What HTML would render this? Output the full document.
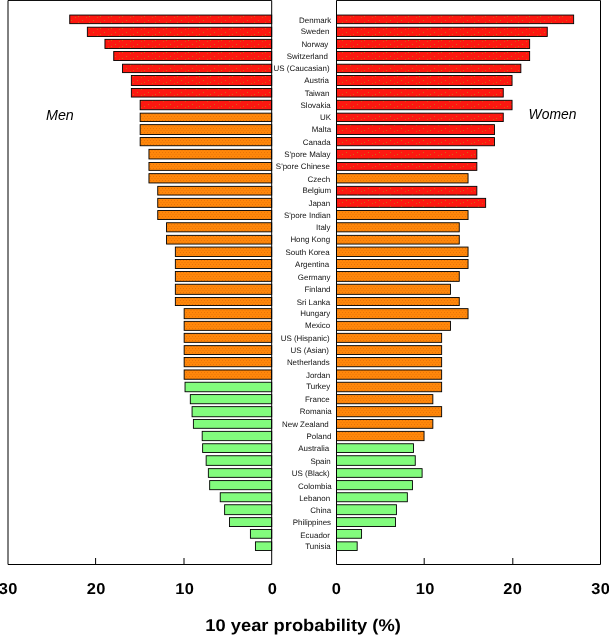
<!DOCTYPE html>
<html><head><meta charset="utf-8"><title>10 year probability</title>
<style>
html,body{margin:0;padding:0;background:#fff;}
body{width:609px;height:636px;overflow:hidden;}
svg{display:block;}
text{font-family:"Liberation Sans",Arial,Helvetica,sans-serif;fill:#000;}
.lab{font-size:7.95px;text-anchor:end;fill:#111;text-rendering:geometricPrecision;}
.ax{text-rendering:geometricPrecision;font-size:15.8px;font-weight:bold;text-anchor:middle;letter-spacing:0.3px;}
.ttl{font-size:17px;font-weight:bold;text-rendering:geometricPrecision;}
.grp{font-size:14.3px;font-style:italic;}
.b{stroke:#000;stroke-width:0.9;}
</style></head><body>
<svg width="609" height="636" viewBox="0 0 609 636">
<defs>
<pattern id="pr" width="11" height="6" patternUnits="userSpaceOnUse"><rect width="11" height="6" fill="#fd1810"/><rect x="1" y="4" width="1" height="1" fill="#c07814" opacity="0.85"/><rect x="5" y="2" width="1" height="1" fill="#c07814" opacity="0.85"/><rect x="9" y="5" width="1" height="1" fill="#c07814" opacity="0.7"/></pattern>
<pattern id="po" width="3" height="4" patternUnits="userSpaceOnUse"><rect width="3" height="4" fill="#ff870a"/><rect x="0" y="0" width="1" height="1" fill="#e06c08" opacity="0.75"/><rect x="1.5" y="2" width="1" height="1" fill="#e06c08" opacity="0.75"/></pattern>
<pattern id="pg" width="6" height="6" patternUnits="userSpaceOnUse"><rect width="6" height="6" fill="#82fc7d"/></pattern>
</defs>
<rect width="609" height="636" fill="#fff"/>

<rect class="b" x="69.75" y="15.05" width="201.95" height="8.60" fill="url(#pr)"/>
<rect class="b" x="336.50" y="15.05" width="237.15" height="8.60" fill="url(#pr)"/>
<text class="lab" x="331.3" y="22.70">Denmark</text>
<rect class="b" x="87.35" y="27.20" width="184.35" height="9.25" fill="url(#pr)"/>
<rect class="b" x="336.50" y="27.20" width="210.75" height="9.25" fill="url(#pr)"/>
<text class="lab" x="329.4" y="33.80">Sweden</text>
<rect class="b" x="104.95" y="39.35" width="166.75" height="9.10" fill="url(#pr)"/>
<rect class="b" x="336.50" y="39.35" width="193.15" height="9.10" fill="url(#pr)"/>
<text class="lab" x="328.3" y="46.80">Norway</text>
<rect class="b" x="113.75" y="51.45" width="157.95" height="9.10" fill="url(#pr)"/>
<rect class="b" x="336.50" y="51.45" width="193.15" height="9.10" fill="url(#pr)"/>
<text class="lab" x="327.8" y="58.55">Switzerland</text>
<rect class="b" x="122.55" y="64.21" width="149.15" height="8.40" fill="url(#pr)"/>
<rect class="b" x="336.50" y="64.21" width="184.35" height="8.40" fill="url(#pr)"/>
<text class="lab" x="329.6" y="70.60">US (Caucasian)</text>
<rect class="b" x="131.35" y="75.45" width="140.35" height="10.10" fill="url(#pr)"/>
<rect class="b" x="336.50" y="75.45" width="175.55" height="10.10" fill="url(#pr)"/>
<text class="lab" x="329.0" y="83.00">Austria</text>
<rect class="b" x="131.35" y="88.45" width="140.35" height="8.60" fill="url(#pr)"/>
<rect class="b" x="336.50" y="88.45" width="166.75" height="8.60" fill="url(#pr)"/>
<text class="lab" x="329.4" y="95.60">Taiwan</text>
<rect class="b" x="140.15" y="100.30" width="131.55" height="9.45" fill="url(#pr)"/>
<rect class="b" x="336.50" y="100.30" width="175.55" height="9.45" fill="url(#pr)"/>
<text class="lab" x="330.6" y="107.70">Slovakia</text>
<rect class="b" x="140.15" y="113.15" width="131.55" height="8.40" fill="url(#po)"/>
<rect class="b" x="336.50" y="113.15" width="166.75" height="8.40" fill="url(#pr)"/>
<text class="lab" x="331.1" y="119.80">UK</text>
<rect class="b" x="140.15" y="124.65" width="131.55" height="9.90" fill="url(#po)"/>
<rect class="b" x="336.50" y="124.65" width="157.95" height="9.90" fill="url(#pr)"/>
<text class="lab" x="331.1" y="131.60">Malta</text>
<rect class="b" x="140.15" y="137.55" width="131.55" height="8.20" fill="url(#po)"/>
<rect class="b" x="336.50" y="137.55" width="157.95" height="8.20" fill="url(#pr)"/>
<text class="lab" x="330.6" y="144.70">Canada</text>
<rect class="b" x="148.95" y="149.35" width="122.75" height="9.60" fill="url(#po)"/>
<rect class="b" x="336.50" y="149.35" width="140.35" height="9.60" fill="url(#pr)"/>
<text class="lab" x="330.4" y="157.30">S'pore Malay</text>
<rect class="b" x="148.95" y="162.45" width="122.75" height="7.90" fill="url(#po)"/>
<rect class="b" x="336.50" y="162.45" width="140.35" height="7.90" fill="url(#pr)"/>
<text class="lab" x="329.9" y="168.70">S'pore Chinese</text>
<rect class="b" x="148.95" y="173.65" width="122.75" height="9.30" fill="url(#po)"/>
<rect class="b" x="336.50" y="173.65" width="131.55" height="9.30" fill="url(#po)"/>
<text class="lab" x="330.1" y="181.60">Czech</text>
<rect class="b" x="157.75" y="186.35" width="113.95" height="8.70" fill="url(#po)"/>
<rect class="b" x="336.50" y="186.35" width="140.35" height="8.70" fill="url(#pr)"/>
<text class="lab" x="331.1" y="192.60">Belgium</text>
<rect class="b" x="157.75" y="198.35" width="113.95" height="9.00" fill="url(#po)"/>
<rect class="b" x="336.50" y="198.35" width="149.15" height="9.00" fill="url(#pr)"/>
<text class="lab" x="330.1" y="205.80">Japan</text>
<rect class="b" x="157.75" y="210.55" width="113.95" height="9.00" fill="url(#po)"/>
<rect class="b" x="336.50" y="210.55" width="131.55" height="9.00" fill="url(#po)"/>
<text class="lab" x="330.6" y="217.90">S'pore Indian</text>
<rect class="b" x="166.55" y="222.75" width="105.15" height="9.10" fill="url(#po)"/>
<rect class="b" x="336.50" y="222.75" width="122.75" height="9.10" fill="url(#po)"/>
<text class="lab" x="330.6" y="230.20">Italy</text>
<rect class="b" x="166.55" y="235.35" width="105.15" height="8.70" fill="url(#po)"/>
<rect class="b" x="336.50" y="235.35" width="122.75" height="8.70" fill="url(#po)"/>
<text class="lab" x="330.1" y="241.80">Hong Kong</text>
<rect class="b" x="175.35" y="247.05" width="96.35" height="9.40" fill="url(#po)"/>
<rect class="b" x="336.50" y="247.05" width="131.55" height="9.40" fill="url(#po)"/>
<text class="lab" x="329.6" y="254.90">South Korea</text>
<rect class="b" x="175.35" y="259.45" width="96.35" height="9.05" fill="url(#po)"/>
<rect class="b" x="336.50" y="259.45" width="131.55" height="9.05" fill="url(#po)"/>
<text class="lab" x="329.1" y="266.88">Argentina</text>
<rect class="b" x="175.35" y="271.45" width="96.35" height="9.90" fill="url(#po)"/>
<rect class="b" x="336.50" y="271.45" width="122.75" height="9.90" fill="url(#po)"/>
<text class="lab" x="330.5" y="279.60">Germany</text>
<rect class="b" x="175.35" y="284.25" width="96.35" height="10.10" fill="url(#po)"/>
<rect class="b" x="336.50" y="284.25" width="113.95" height="10.10" fill="url(#po)"/>
<text class="lab" x="330.5" y="292.40">Finland</text>
<rect class="b" x="175.35" y="297.45" width="96.35" height="8.10" fill="url(#po)"/>
<rect class="b" x="336.50" y="297.45" width="122.75" height="8.10" fill="url(#po)"/>
<text class="lab" x="330.2" y="305.20">Sri Lanka</text>
<rect class="b" x="184.15" y="308.65" width="87.55" height="10.05" fill="url(#po)"/>
<rect class="b" x="336.50" y="308.65" width="131.55" height="10.05" fill="url(#po)"/>
<text class="lab" x="330.2" y="315.87">Hungary</text>
<rect class="b" x="184.15" y="321.35" width="87.55" height="9.00" fill="url(#po)"/>
<rect class="b" x="336.50" y="321.35" width="113.95" height="9.00" fill="url(#po)"/>
<text class="lab" x="330.2" y="328.45">Mexico</text>
<rect class="b" x="184.15" y="333.35" width="87.55" height="9.00" fill="url(#po)"/>
<rect class="b" x="336.50" y="333.35" width="105.15" height="9.00" fill="url(#po)"/>
<text class="lab" x="329.7" y="340.75">US (Hispanic)</text>
<rect class="b" x="184.15" y="345.65" width="87.55" height="8.90" fill="url(#po)"/>
<rect class="b" x="336.50" y="345.65" width="105.15" height="8.90" fill="url(#po)"/>
<text class="lab" x="328.9" y="353.00">US (Asian)</text>
<rect class="b" x="184.15" y="357.55" width="87.55" height="9.20" fill="url(#po)"/>
<rect class="b" x="336.50" y="357.55" width="105.15" height="9.20" fill="url(#po)"/>
<text class="lab" x="329.7" y="365.05">Netherlands</text>
<rect class="b" x="184.15" y="369.95" width="87.55" height="9.30" fill="url(#po)"/>
<rect class="b" x="336.50" y="369.95" width="105.15" height="9.30" fill="url(#po)"/>
<text class="lab" x="330.2" y="377.50">Jordan</text>
<rect class="b" x="185.03" y="382.25" width="86.67" height="9.50" fill="url(#pg)"/>
<rect class="b" x="336.50" y="382.25" width="105.15" height="9.50" fill="url(#po)"/>
<text class="lab" x="330.2" y="389.30">Turkey</text>
<rect class="b" x="190.31" y="394.60" width="81.39" height="9.15" fill="url(#pg)"/>
<rect class="b" x="336.50" y="394.60" width="96.35" height="9.15" fill="url(#po)"/>
<text class="lab" x="329.7" y="402.47">France</text>
<rect class="b" x="192.07" y="406.65" width="79.63" height="10.10" fill="url(#pg)"/>
<rect class="b" x="336.50" y="406.65" width="105.15" height="10.10" fill="url(#po)"/>
<text class="lab" x="331.6" y="413.80">Romania</text>
<rect class="b" x="193.39" y="419.45" width="78.31" height="8.85" fill="url(#pg)"/>
<rect class="b" x="336.50" y="419.45" width="96.35" height="8.85" fill="url(#po)"/>
<text class="lab" x="328.8" y="426.77">New Zealand</text>
<rect class="b" x="202.19" y="431.35" width="69.51" height="9.30" fill="url(#pg)"/>
<rect class="b" x="336.50" y="431.35" width="87.55" height="9.30" fill="url(#po)"/>
<text class="lab" x="331.3" y="439.30">Poland</text>
<rect class="b" x="202.63" y="443.75" width="69.07" height="8.80" fill="url(#pg)"/>
<rect class="b" x="336.50" y="443.75" width="76.99" height="8.80" fill="url(#pg)"/>
<text class="lab" x="329.1" y="451.25">Australia</text>
<rect class="b" x="206.15" y="455.75" width="65.55" height="9.60" fill="url(#pg)"/>
<rect class="b" x="336.50" y="455.75" width="78.75" height="9.60" fill="url(#pg)"/>
<text class="lab" x="330.7" y="464.15">Spain</text>
<rect class="b" x="208.35" y="468.65" width="63.35" height="8.70" fill="url(#pg)"/>
<rect class="b" x="336.50" y="468.65" width="85.61" height="8.70" fill="url(#pg)"/>
<text class="lab" x="329.7" y="475.90">US (Black)</text>
<rect class="b" x="209.67" y="480.60" width="62.03" height="9.10" fill="url(#pg)"/>
<rect class="b" x="336.50" y="480.60" width="75.93" height="9.10" fill="url(#pg)"/>
<text class="lab" x="331.6" y="488.55">Colombia</text>
<rect class="b" x="220.23" y="492.75" width="51.47" height="9.00" fill="url(#pg)"/>
<rect class="b" x="336.50" y="492.75" width="70.83" height="9.00" fill="url(#pg)"/>
<text class="lab" x="330.1" y="500.70">Lebanon</text>
<rect class="b" x="224.63" y="504.75" width="47.07" height="9.90" fill="url(#pg)"/>
<rect class="b" x="336.50" y="504.75" width="59.92" height="9.90" fill="url(#pg)"/>
<text class="lab" x="331.1" y="512.90">China</text>
<rect class="b" x="229.47" y="517.65" width="42.23" height="8.90" fill="url(#pg)"/>
<rect class="b" x="336.50" y="517.65" width="58.95" height="8.90" fill="url(#pg)"/>
<text class="lab" x="331.1" y="524.90">Philippines</text>
<rect class="b" x="250.41" y="529.55" width="21.29" height="8.70" fill="url(#pg)"/>
<rect class="b" x="336.50" y="529.55" width="25.07" height="8.70" fill="url(#pg)"/>
<text class="lab" x="329.9" y="537.50">Ecuador</text>
<rect class="b" x="255.43" y="541.85" width="16.27" height="8.70" fill="url(#pg)"/>
<rect class="b" x="336.50" y="541.85" width="20.67" height="8.70" fill="url(#pg)"/>
<text class="lab" x="330.6" y="549.40">Tunisia</text>
<g fill="none" stroke="#000" stroke-width="1">
<path d="M8,564.5 V0.45 H271.7 V564.5 Z"/>
<path d="M336.5,564.5 V0.45 H600.5 V564.5 Z"/>
<path d="M95.6,564.5 V558"/>
<path d="M184,564.5 V558"/>
<path d="M424.2,564.5 V558"/>
<path d="M512.8,564.5 V558"/>
</g>
<text class="ax" transform="translate(8.15,593.8) scale(1.04,1)">30</text>
<text class="ax" transform="translate(96.15,593.8) scale(1.04,1)">20</text>
<text class="ax" transform="translate(184.75,593.8) scale(1.04,1)">10</text>
<text class="ax" transform="translate(272.54999999999995,593.8) scale(1.04,1)">0</text>
<text class="ax" transform="translate(336.54999999999995,593.8) scale(1.04,1)">0</text>
<text class="ax" transform="translate(425.15,593.8) scale(1.04,1)">10</text>
<text class="ax" transform="translate(512.75,593.8) scale(1.04,1)">20</text>
<text class="ax" transform="translate(600.65,593.8) scale(1.04,1)">30</text>
<text class="ttl" transform="translate(205.3,631.3) scale(1.078,1)">10 year probability (%)</text>
<text class="grp" x="46" y="120">Men</text>
<text class="grp" style="font-size:13.9px" x="528.6" y="119.4">Women</text>
</svg></body></html>
